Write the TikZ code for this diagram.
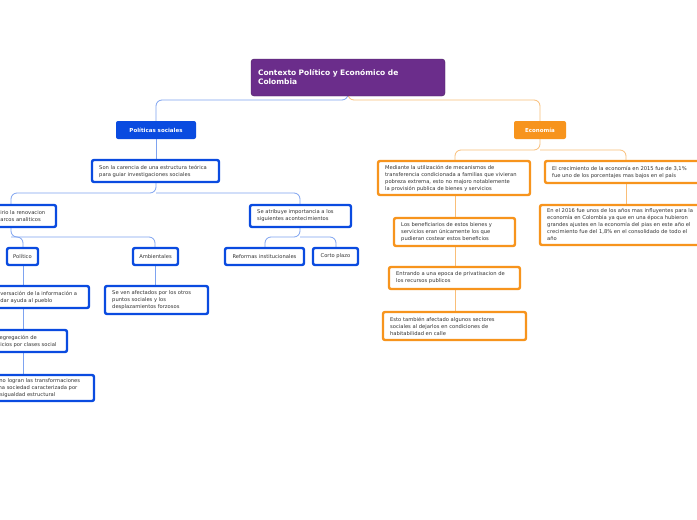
\documentclass[tikz,border=0pt]{standalone}
\usepackage{fontspec}
\setmainfont{DejaVu Sans}
\definecolor{bl}{HTML}{0A4BE0}
\definecolor{lbl}{HTML}{7EA3F0}
\definecolor{org}{HTML}{F7941D}
\definecolor{lorg}{HTML}{F9BE78}
\definecolor{pur}{HTML}{6B2D8B}
\begin{document}
\begin{tikzpicture}[x=1pt,y=-1pt,
 bbox/.style={draw=bl,line width=2.4pt,rounded corners=2pt,fill=white,font=\fontsize{5.2}{7}\selectfont,align=left,inner sep=0pt,text=black!80},
 obox/.style={bbox,draw=org},
 bl1/.style={draw=lbl,line width=0.8pt,rounded corners=6pt},
 ol1/.style={draw=lorg,line width=0.8pt,rounded corners=6pt}]
\clip (0,0) rectangle (697,520);
\fill[white] (0,0) rectangle (697,520);
% connectors
\draw[bl1] (348,96) -- (348,100) -- (156,100) -- (156,121);
\draw[ol1] (348,96) -- (348,100) -- (540,100) -- (540,121);
\draw[bl1] (156,139) -- (156,160);
\draw[bl1] (156,182) -- (156,193) -- (11,193) -- (11,205);
\draw[bl1] (156,193) -- (300,193) -- (300,205);
\draw[bl1] (11,227) -- (11,237) -- (23,237) -- (23,248);
\draw[bl1] (11,237) -- (155,237) -- (155,248);
\draw[bl1] (300,227) -- (300,237) -- (265,237) -- (265,248);
\draw[bl1] (300,237) -- (336,237) -- (336,248);
\draw[bl1] (23,265) -- (23,388);
\draw[bl1] (155,265) -- (155,286);
\draw[ol1] (540,139) -- (540,150) -- (455,150) -- (455,161);
\draw[ol1] (540,150) -- (626,150) -- (626,161);
\draw[ol1] (455,195) -- (455,326);
\draw[ol1] (626,183) -- (626,205);
% nodes
\node[fill=pur,draw=pur!70!black,rounded corners=3pt,minimum width=194pt,minimum height=37pt,text width=180pt,align=left,text=white,font=\bfseries\fontsize{7.5}{9}\selectfont] (root) at (348,77.5) {Contexto Político y Económico de\\Colombia};
\node[fill=bl,rounded corners=2pt,minimum width=80pt,minimum height=18pt,text=white,font=\bfseries\fontsize{5.5}{7}\selectfont] (ps) at (156,130) {Políticas sociales};
\node[fill=org,rounded corners=2pt,minimum width=52pt,minimum height=18pt,text=white,font=\bfseries\fontsize{5.5}{7}\selectfont] (eco) at (540,130) {Economía};
\newcommand{\bx}[6]{\draw[#1] (#2,#3) rectangle (#4,#5); \node[#1,draw=none,fill=none,anchor=west] at ({#2+6},{(#3+#5)/2}) {#6};}
\bx{bbox}{92}{160}{219}{182}{Son la carencia de una estructura teórica\\para guiar investigaciones sociales}
\draw[bbox] (-60,205) rectangle (56,227);
\node[bbox,draw=none,fill=none,anchor=west] (ren) at (-14,216) {Requirio la renovacion\\de marcos analiticos};
\bx{bbox}{250}{205}{351}{227}{Se atribuye importancia a los\\siguientes acontecimientos}
\draw[bbox] (7,248) rectangle (38,265); \node[bbox,draw=none,fill=none] (pol) at (22.5,256.5) {Político};
\draw[bbox] (133,248) rectangle (178,265); \node[bbox,draw=none,fill=none] (amb) at (155.5,256.5) {Ambientales};
\draw[bbox] (225,248) rectangle (304,265); \node[bbox,draw=none,fill=none] (ref) at (264.5,256.5) {Reformas institucionales};
\draw[bbox] (313,248) rectangle (358,265); \node[bbox,draw=none,fill=none] (cor) at (335.5,256.5) {Corto plazo};
\draw[bbox] (-60,286) rectangle (89,308);
\node[bbox,draw=none,fill=none,anchor=west] (b1) at (-11,297) {Conversación de la información a\\brindar ayuda al pueblo};
\draw[bbox] (-60,330) rectangle (67,352);
\node[bbox,draw=none,fill=none,anchor=west] (b2) at (-12,341) {La segregación de\\servicios por clases social};
\draw[bbox] (-60,375) rectangle (94,401);
\node[bbox,draw=none,fill=none,anchor=west] (b3) at (-14,388) {Que no logran las transformaciones\\de una sociedad caracterizada por\\\phantom{ad}desigualdad estructural};
\bx{bbox}{105}{286}{208}{314}{Se ven afectados por los otros\\puntos sociales y los\\desplazamientos forzosos}
\bx{obox}{378}{161}{530}{195}{Mediante la utilización de mecanismos de\\transferencia condicionada a familias que vivieran\\pobreza extrema, esto no  majoro notablemente\\la provisión publica de bienes y servicios}
\bx{obox}{545}{161}{720}{183}{El crecimiento de la economía en 2015 fue de 3,1\%\\fue uno de los porcentajes mas bajos en el país}
\bx{obox}{540}{205}{720}{245}{En el 2016 fue unos de los años mas influyentes para la\\economía en Colombia ya que en una época hubieron\\grandes ajustes en la economía del pias en este año el\\crecimiento fue del 1,8\% en el consolidado de todo el\\año}
\bx{obox}{394}{218}{515}{246}{Los beneficiarios de estos bienes y\\servicios eran únicamente los que\\pudieran costear estos beneficios}
\bx{obox}{389}{267}{520}{289}{Entrando a una epoca de privatisacion de\\los recursos publicos}
\bx{obox}{383}{312}{526}{340}{Esto también afectado algunos sectores\\sociales al dejarlos en condiciones de\\habitabilidad en calle}
\end{tikzpicture}
\end{document}
